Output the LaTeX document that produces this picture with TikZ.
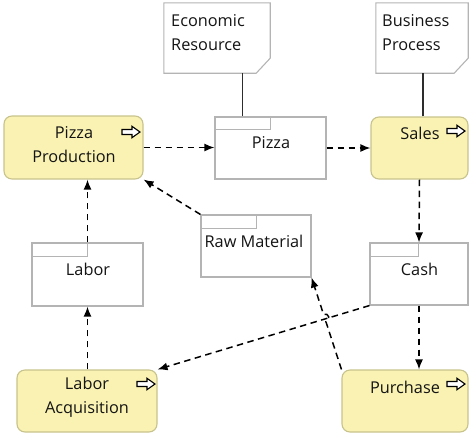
\documentclass[tikz,border=0pt]{standalone}
\usepackage{fontspec}
\setmainfont{Open Sans}
\usetikzlibrary{arrows.meta,calc}
\definecolor{procfill}{RGB}{249,242,178}
\definecolor{procdraw}{RGB}{200,195,140}
\definecolor{objdraw}{RGB}{180,180,180}
\definecolor{txtc}{RGB}{20,20,20}
\definecolor{linkc}{RGB}{45,45,45}
\newcommand{\arrowicon}[2]{%
  \draw[line width=1.1pt, fill=white, line join=miter]
    ($(#1,#2)+(-9,-2.5)$) -- ++(10,0) -- ++(0,-3.2) -- ($(#1,#2)+(9,0)$)
    -- ($(#1,#2)+(1,5.7)$) -- ++(0,-3.2) -- ($(#1,#2)+(-9,2.5)$) -- cycle;}
\newcommand{\objtab}[3]{%
  \draw[objline] ($(#1.north west)+(0,#3)$) -- ($(#1.north west)+(#2,#3)$) -- ($(#1.north west)+(#2,0)$);}
\begin{document}
\begin{tikzpicture}[x=1pt,y=-1pt,
  proc/.style={draw=procdraw, fill=procfill, rounded corners=8pt, line width=1.1pt, inner sep=0pt},
  obj/.style={draw=objdraw, fill=white, line width=1.1pt, inner sep=0pt},
  objline/.style={draw=objdraw, line width=1.1pt},
  notebox/.style={draw=none, inner sep=0pt},
  txt/.style={inner sep=0pt, text=txtc, font=\fontsize{16.3}{24}\selectfont, align=center},
  ltxt/.style={inner sep=0pt, text=txtc, font=\fontsize{16.3}{24}\selectfont, align=left, anchor=west},
  link/.style={draw=linkc, line width=1.3pt},
  conn/.style={draw=black, line width=1.5pt, dash pattern=on 6.5pt off 4.5pt, -{Latex[length=10pt,width=8pt]}}]
\useasboundingbox (0,0) rectangle (474,437);

% boxes
\node[proc, minimum width=139pt, minimum height=63pt] (pp) at (73.5,147.5) {};
\node[obj, minimum width=111pt, minimum height=62pt] (pizza) at (270.5,148) {};
\node[proc, minimum width=97pt, minimum height=62pt] (sales) at (419.5,148) {};
\node[obj, minimum width=110pt, minimum height=62pt] (raw) at (256,246) {};
\node[obj, minimum width=111pt, minimum height=63pt] (labor) at (87.5,274.5) {};
\node[obj, minimum width=98pt, minimum height=62pt] (cash) at (419,274) {};
\node[proc, minimum width=140pt, minimum height=62pt] (la) at (87,401) {};
\node[proc, minimum width=126pt, minimum height=62pt] (pur) at (405,401) {};
\node[notebox, minimum width=106pt, minimum height=70pt] (econ) at (217,38) {};
\node[notebox, minimum width=92pt, minimum height=70pt] (bp) at (422,38) {};

% tabs
\objtab{pizza}{56}{13}
\objtab{raw}{56}{14}
\objtab{labor}{56}{14}
\objtab{cash}{49}{14}

% notes
\draw[objline, fill=white] (econ.north west) -- (econ.north east) -- ($(econ.south east)+(0,-15)$)
  -- ($(econ.south east)+(-14,0)$) -- (econ.south west) -- cycle;
\draw[objline, fill=white] (bp.north west) -- (bp.north east) -- ($(bp.south east)+(0,-15)$)
  -- ($(bp.south east)+(-14,0)$) -- (bp.south west) -- cycle;

% texts
\node[txt] (tpp) at (74,145) {Pizza\\Production};
\node[txt] (tpizza) at (271,143) {Pizza};
\node[txt] (tsales) at (420,133) {Sales};
\node[txt] (traw) at (254,241) {Raw Material};
\node[txt] (tlabor) at (88,269) {Labor};
\node[txt] (tcash) at (419.5,269) {Cash};
\node[txt] (tla) at (87,397) {Labor\\Acquisition};
\node[txt] (tpur) at (405,387) {Purchase};
\node[ltxt] (tecon) at (171,33) {Economic\\Resource};
\node[ltxt] (tbp) at (382,33) {Business\\Process};

% icons
\arrowicon{131}{132}
\arrowicon{456}{131}
\arrowicon{456}{384}
\arrowicon{146}{384}

% note links
\coordinate (pztab) at ($(pizza.north west)+(28,0)$);
\draw[link] (pztab) -- (pztab |- econ.south);
\coordinate (slink) at ($(sales.north)+(3.5,0)$);
\draw[link] (slink) -- (slink |- bp.south);

% connectors
\draw[conn] (pp.east) -- (pp.east -| pizza.west);
\draw[conn] (pizza.east) -- (sales.west);
\draw[conn] (sales.south) -- (cash.north);
\draw[conn] (cash.south) -- (cash.south |- pur.north);
\draw[conn] (cash.south west) -- (la.north east);
\coordinate (h1) at ($(pur.north west)!0.52!(raw.south east)$);
\coordinate (h2) at ($(pur.north west)!0.60!(raw.south east)$);
\draw[conn] (pur.north west) -- (h1) .. controls ($(h1)+(5.2,-1.9)$) and ($(h2)+(5.2,-1.9)$) .. (h2) -- (raw.south east);
\draw[conn] (raw.north west) -- (pp.south east);
\draw[conn] (labor.south |- la.north) -- (labor.south);
\draw[conn] (labor.north) -- (labor.north |- pp.south);
\end{tikzpicture}
\end{document}
